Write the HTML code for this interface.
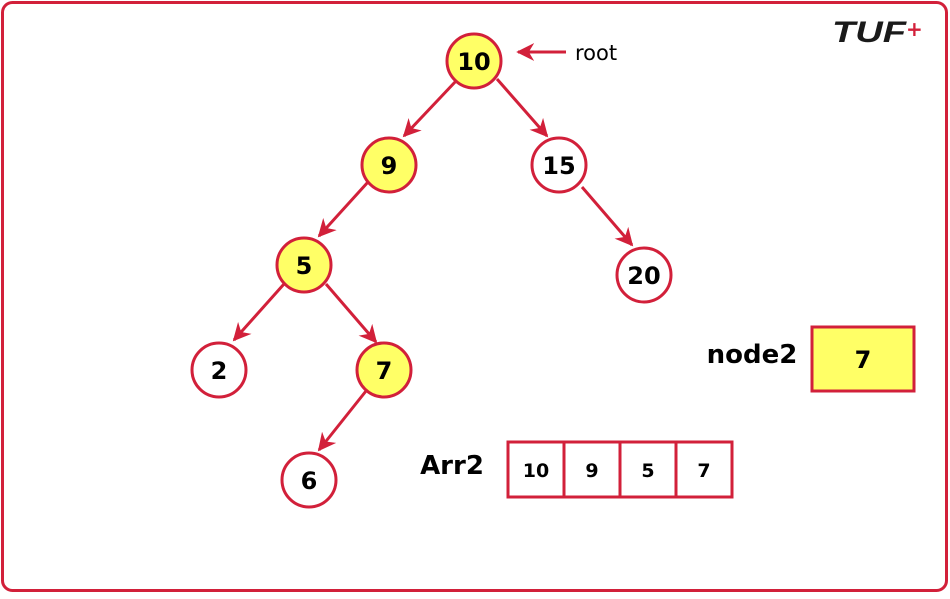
<!DOCTYPE html>
<html><head><style>
body{margin:0;width:950px;height:594px;background:#fff;overflow:hidden}
</style></head><body>
<svg width="950" height="594" xmlns="http://www.w3.org/2000/svg" style="font-family:'DejaVu Sans','Liberation Sans',sans-serif">
<defs><marker id="a" viewBox="0 0 10 10" refX="9" refY="5" markerWidth="6" markerHeight="6" orient="auto" markerUnits="strokeWidth"><path d="M0,0L10,5L0,10L3,5z" fill="#d2203a"/></marker></defs>
<rect x="2.5" y="2.5" width="944" height="588" rx="10" fill="#fff" stroke="#d2203a" stroke-width="3"/>
<g stroke="#d2203a" stroke-width="3" marker-end="url(#a)">
<line x1="456" y1="81" x2="404" y2="136"/>
<line x1="497" y1="79" x2="547" y2="136"/>
<line x1="368" y1="182" x2="319" y2="236"/>
<line x1="582" y1="187" x2="632" y2="245"/>
<line x1="284" y1="284" x2="234" y2="340"/>
<line x1="326" y1="284" x2="376" y2="342"/>
<line x1="366" y1="391" x2="319" y2="450"/>
<line x1="566" y1="52" x2="518" y2="52"/>
</g>
<g stroke="#d2203a" stroke-width="3">
<circle cx="474" cy="61" r="27" fill="#ffff66"/>
<circle cx="389" cy="165" r="27" fill="#ffff66"/>
<circle cx="559" cy="165" r="27" fill="#fff"/>
<circle cx="304" cy="265" r="27" fill="#ffff66"/>
<circle cx="644" cy="275" r="27" fill="#fff"/>
<circle cx="219" cy="370" r="27" fill="#fff"/>
<circle cx="384" cy="370" r="27" fill="#ffff66"/>
<circle cx="309" cy="480" r="27" fill="#fff"/>
<rect x="812" y="327" width="102" height="64" fill="#ffff66"/>
<rect x="508" y="442" width="224" height="55" fill="#fff"/>
<line x1="564" y1="442" x2="564" y2="497"/><line x1="620" y1="442" x2="620" y2="497"/><line x1="676" y1="442" x2="676" y2="497"/>
</g>
<g font-weight="bold" font-size="24" text-anchor="middle" fill="#000">
<text x="474" y="70">10</text><text x="389" y="174">9</text><text x="559" y="174">15</text>
<text x="304" y="274">5</text><text x="644" y="284">20</text><text x="219" y="379">2</text>
<text x="384" y="379">7</text><text x="309" y="489">6</text><text x="863" y="368">7</text>
</g>
<g font-weight="bold" font-size="19" text-anchor="middle">
<text x="536" y="477">10</text><text x="592" y="477">9</text><text x="648" y="477">5</text><text x="704" y="477">7</text>
</g>
<text x="752" y="363" font-weight="bold" font-size="26" text-anchor="middle">node2</text>
<text x="452" y="474" font-weight="bold" font-size="26" text-anchor="middle">Arr2</text>
<text x="575" y="60" font-size="21">root</text>
<text x="832" y="42" font-family="'Liberation Sans',sans-serif" font-weight="bold" font-style="italic" font-size="30" fill="#1a1a1a" textLength="74" lengthAdjust="spacingAndGlyphs">TUF</text>
<text x="906" y="36" font-weight="bold" font-size="20" fill="#d2203a">+</text>
</svg>
</body></html>
